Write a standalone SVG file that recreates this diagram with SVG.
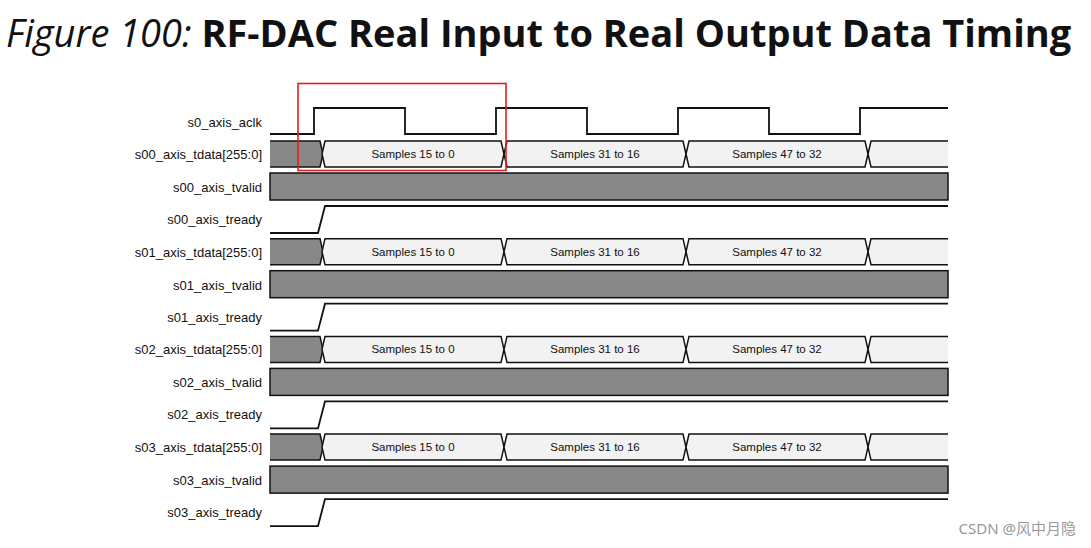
<svg xmlns="http://www.w3.org/2000/svg" width="1091" height="548" viewBox="0 0 1091 548">
<style>
.lbl{font-family:"Liberation Sans",Arial,sans-serif;font-size:13px;fill:#111;text-anchor:end}
.smp{font-family:"Liberation Sans",Arial,sans-serif;font-size:11.5px;fill:#111;text-anchor:middle}
.w{fill:none;stroke:#111;stroke-width:1.8}
.bus{fill:#f2f2f2;stroke:#111;stroke-width:1.5}
.gray{fill:#888;stroke:#111;stroke-width:1.5}
</style>
<defs>
<g id="grp">
<path class="gray" d="M270,0 H320 L323,13 L320,26 H270"/>
<path class="bus" d="M948,0 H871 L868,13 L871,26 H948"/>
<path class="bus" d="M325,0 H501 L504,13 L501,26 H325 L322,13 Z"/>
<path class="bus" d="M507,0 H683 L686,13 L683,26 H507 L504,13 Z"/>
<path class="bus" d="M689,0 H865 L868,13 L865,26 H689 L686,13 Z"/>
<text class="smp" x="413" y="17">Samples 15 to 0</text>
<text class="smp" x="595" y="17">Samples 31 to 16</text>
<text class="smp" x="777" y="17">Samples 47 to 32</text>
<rect class="gray" x="270" y="32" width="678" height="27"/>
<path class="w" d="M270,92 H318 L325,65 H948"/>
</g>
</defs>
<text x="6" y="47" font-family="'Open Sans','Noto Sans',sans-serif" font-size="38" fill="#111"><tspan font-style="italic">Figure 100:</tspan><tspan font-weight="bold"> RF-DAC Real Input to Real Output Data Timing</tspan></text>
<g id="clk"><path class="w" d="M270,134 H314 V108 H405 V134 H496 V108 H587 V134 H678 V108 H769 V134 H860 V108 H948"/>
<text class="lbl" x="262" y="127">s0_axis_aclk</text></g>
<g id="s00" transform="translate(0,141)"><use href="#grp"/>
<text class="lbl" x="262" y="18">s00_axis_tdata[255:0]</text><text class="lbl" x="262" y="51">s00_axis_tvalid</text><text class="lbl" x="262" y="83">s00_axis_tready</text></g>
<g id="s01" transform="translate(0,238.7)"><use href="#grp"/>
<text class="lbl" x="262" y="18">s01_axis_tdata[255:0]</text><text class="lbl" x="262" y="51">s01_axis_tvalid</text><text class="lbl" x="262" y="83">s01_axis_tready</text></g>
<g id="s02" transform="translate(0,336.4)"><use href="#grp"/>
<text class="lbl" x="262" y="18">s02_axis_tdata[255:0]</text><text class="lbl" x="262" y="51">s02_axis_tvalid</text><text class="lbl" x="262" y="83">s02_axis_tready</text></g>
<g id="s03" transform="translate(0,434.1)"><use href="#grp"/>
<text class="lbl" x="262" y="18">s03_axis_tdata[255:0]</text><text class="lbl" x="262" y="51">s03_axis_tvalid</text><text class="lbl" x="262" y="83">s03_axis_tready</text></g>
<rect x="298" y="83.5" width="208" height="87" fill="none" stroke="#e02020" stroke-width="1.6"/>
<text x="1076" y="534" text-anchor="end" font-family="'Noto Sans','Noto Sans CJK SC',sans-serif" font-size="15" fill="#999">CSDN @风中月隐</text>
</svg>
